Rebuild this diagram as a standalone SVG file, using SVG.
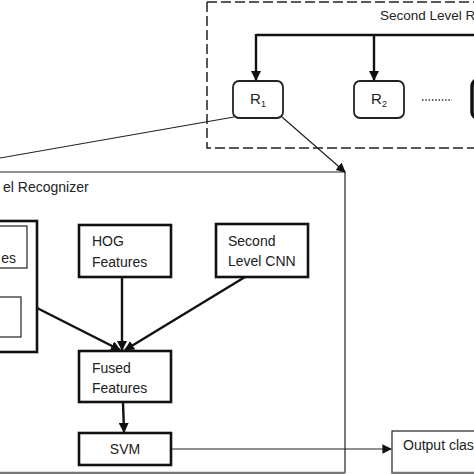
<svg xmlns="http://www.w3.org/2000/svg" width="474" height="474" viewBox="0 0 474 474">
<defs>
<style>
text{font-family:"Liberation Sans",Arial,sans-serif;font-size:14px;fill:#222}
.thick{fill:#fff;stroke:#111;stroke-width:2.6}
.thin{fill:#fff;stroke:#222;stroke-width:1.2}
.conn{fill:none;stroke:#111;stroke-width:2.4}
.connthin{fill:none;stroke:#222;stroke-width:1.2}
</style>
<marker id="ah" viewBox="0 0 10 10" refX="9" refY="5" markerWidth="4.2" markerHeight="4.2" orient="auto" markerUnits="strokeWidth">
<path d="M0,0 L10,5 L0,10 z" fill="#111"/>
</marker>
<marker id="ahs" viewBox="0 0 10 10" refX="9" refY="5" markerWidth="8" markerHeight="8" orient="auto" markerUnits="strokeWidth">
<path d="M0,0 L10,5 L0,10 z" fill="#111"/>
</marker>
</defs>
<rect width="474" height="474" fill="#fff"/>

<g id="second-level-group">
<path d="M207,2 H474 M207,2 V148 H474" fill="none" stroke="#222" stroke-width="1.5" stroke-dasharray="10,4"/>
<text x="380" y="20" style="font-size:13.5px">Second Level R</text>
</g>

<g id="first-level-group">
<path d="M0,172 H345 V473" fill="none" stroke="#222" stroke-width="1.2"/>
<line x1="0" y1="473" x2="345" y2="473" stroke="#777" stroke-width="2.5"/>
<text x="3" y="192">el Recognizer</text>
</g>

<g id="R1">
<rect x="233" y="81" width="50" height="37" rx="6" class="thin" style="stroke-width:1.8"/>
<text x="258" y="104" text-anchor="middle" style="font-size:15px">R<tspan style="font-size:9px" dy="3">1</tspan></text>
</g>
<g id="R2">
<rect x="354" y="81" width="50" height="37" rx="6" class="thin" style="stroke-width:1.8"/>
<text x="379" y="104" text-anchor="middle" style="font-size:15px">R<tspan style="font-size:9px" dy="3">2</tspan></text>
</g>
<g id="dots">
<line x1="422" y1="100" x2="452" y2="100" stroke="#333" stroke-width="1.5" stroke-dasharray="1.5,1.8"/>
</g>
<g id="R3">
<rect x="472" y="80" width="40" height="38" rx="6" fill="#fff" stroke="#111" stroke-width="3.5"/>
</g>

<g id="left-box">
<rect x="-20" y="221" width="57" height="131" class="thick"/>
<rect x="-20" y="226" width="47" height="42" class="thin"/>
<text x="16" y="263" text-anchor="end">es</text>
<rect x="-20" y="297" width="41" height="40" class="thin"/>
</g>

<g id="hog">
<rect x="79" y="225" width="92" height="52" class="thick"/>
<text x="92" y="246">HOG</text>
<text x="92" y="267">Features</text>
</g>

<g id="cnn">
<rect x="216" y="224" width="92" height="53" class="thick"/>
<text x="228" y="246">Second</text>
<text x="228" y="266">Level CNN</text>
</g>

<g id="fused">
<rect x="79" y="351" width="92" height="51" class="thick"/>
<text x="92" y="373">Fused</text>
<text x="92" y="393">Features</text>
</g>

<g id="svm">
<rect x="79" y="433" width="92" height="32" class="thick"/>
<text x="125" y="454" text-anchor="middle">SVM</text>
</g>

<g id="output">
<rect x="392" y="431" width="100" height="42" class="thin"/>
<line x1="392" y1="473" x2="474" y2="473" stroke="#777" stroke-width="2.5"/>
<text x="403" y="450">Output clas</text>
</g>

<g id="connectors">
<path d="M256,35 H474" class="conn"/>
<line x1="256" y1="34" x2="256" y2="80" class="conn" marker-end="url(#ah)"/>
<line x1="374" y1="35" x2="374" y2="80" class="conn" marker-end="url(#ah)"/>
<line x1="234" y1="117" x2="0" y2="158" class="connthin"/>
<line x1="282" y1="117" x2="345" y2="172" class="connthin" marker-end="url(#ahs)"/>
<line x1="37" y1="308" x2="120" y2="350" class="conn" marker-end="url(#ah)"/>
<line x1="122" y1="277" x2="122" y2="350" class="conn" marker-end="url(#ah)"/>
<line x1="245" y1="277" x2="125" y2="350" class="conn" marker-end="url(#ah)"/>
<line x1="123" y1="402" x2="124" y2="432" class="conn" marker-end="url(#ah)"/>
<line x1="171" y1="449" x2="391" y2="449" class="connthin" marker-end="url(#ahs)"/>
</g>
</svg>
